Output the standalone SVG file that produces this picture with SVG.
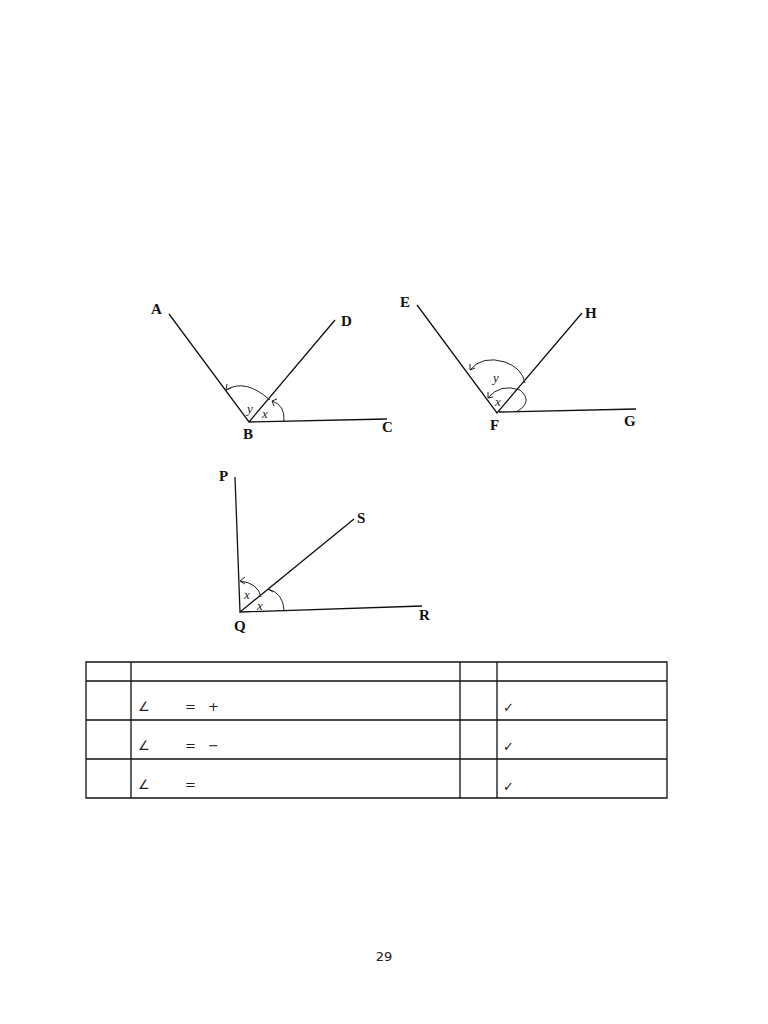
<svg xmlns="http://www.w3.org/2000/svg" width="768" height="1024" viewBox="0 0 768 1024">
<style>
.l{stroke:#111;stroke-width:1.3;fill:none}
.a{stroke:#222;stroke-width:1;fill:none}
.lb{font-family:"Liberation Serif",serif;font-weight:bold;font-size:15px;fill:#111}
.v{font-family:"Liberation Serif",serif;font-style:italic;font-size:13px;fill:#222}
.t{font-family:"DejaVu Sans",sans-serif;font-size:13px;fill:#222}
.g{stroke:#111;stroke-width:1.3;fill:none}
</style>
<rect width="768" height="1024" fill="#fff"/>
<g id="fig1">
<path class="l" d="M169,314 L249,422 L335,320 M249,422 L387,419"/>
<path class="a" d="M226,390 Q245,378 270,400 M272,401 Q285,405 284,421 M226,390 l1,-6 M226,390 l5,-2 M272,401 l5,-2 M272,401 l2,5"/>
<text class="lb" x="151" y="314">A</text><text class="lb" x="341" y="326">D</text>
<text class="lb" x="243" y="439">B</text><text class="lb" x="382" y="432">C</text>
<text class="v" x="247" y="413">y</text><text class="v" x="262" y="418">x</text>
</g>
<g id="fig2">
<path class="l" d="M417,305 L497,413 L582,313 M499,412 L636,409"/>
<path class="a" d="M470,370 Q482,355 505,362 Q522,368 525,383 M488,398 Q500,383 520,390 Q534,402 516,412 M470,370 l0,-6 M470,370 l5,-2 M488,398 l0,-6 M488,398 l5,-1"/>
<text class="lb" x="400" y="307">E</text><text class="lb" x="585" y="318">H</text>
<text class="lb" x="490" y="430">F</text><text class="lb" x="624" y="426">G</text>
<text class="v" x="493" y="382">y</text><text class="v" x="495" y="406">x</text>
</g>
<g id="fig3">
<path class="l" d="M235,477 L240,612 L354,519 M240,612 L422,606"/>
<path class="a" d="M240,581 Q258,583 261,597 M268,589 Q283,593 284,610 M240,581 l5,-4 M240,581 l5,3 M268,589 l5,-4 M268,589 l5,3"/>
<text class="lb" x="219" y="481">P</text><text class="lb" x="357" y="523">S</text>
<text class="lb" x="234" y="631">Q</text><text class="lb" x="419" y="620">R</text>
<text class="v" x="244" y="599">x</text><text class="v" x="257" y="610">x</text>
</g>
<g id="table">
<path class="g" d="M86,662 H667 V798 H86 Z M86,681 H667 M86,720 H667 M86,759 H667 M131,662 V798 M460,662 V798 M497,662 V798"/>
<text class="t" x="138" y="711">∠</text><text class="t" x="185" y="711">=</text><text class="t" x="208" y="711">+</text>
<text class="t" x="138" y="750">∠</text><text class="t" x="185" y="750">=</text><text class="t" x="208" y="750">−</text>
<text class="t" x="138" y="789">∠</text><text class="t" x="185" y="789">=</text>
<text class="t" x="503" y="712">✓</text><text class="t" x="503" y="751">✓</text><text class="t" x="503" y="791">✓</text>
</g>
<text class="t" x="384" y="961" text-anchor="middle" font-size="12">29</text>
</svg>
